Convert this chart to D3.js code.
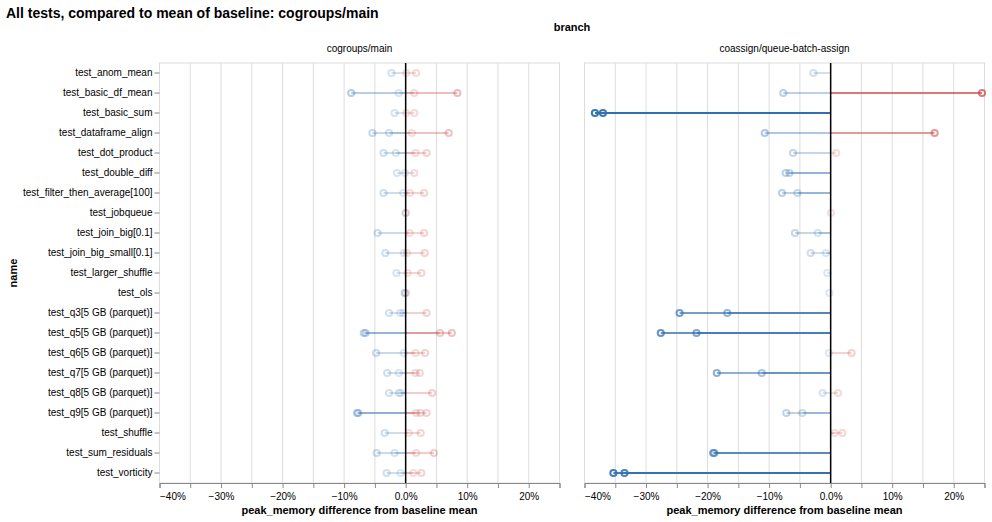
<!DOCTYPE html>
<html>
<head>
<meta charset="utf-8">
<script src="https://cdn.jsdelivr.net/npm/d3@7"></script>
<style>
  body { margin: 0; background: #fff; }
  text { font-family: "Liberation Sans", Arial, Helvetica, sans-serif; fill: #000; }
</style>
</head>
<body>
<svg id="chart" width="992" height="522"></svg>
<script>
// chart data (fractions: -0.05 = -5%)
const chartTitle = "All tests, compared to mean of baseline: cogroups/main"
const branches = ["cogroups/main", "coassign/queue-batch-assign"]
const testNames = [
    "test_anom_mean", "test_basic_df_mean", "test_basic_sum", "test_dataframe_align",
    "test_dot_product", "test_double_diff", "test_filter_then_average[100]", "test_jobqueue",
    "test_join_big[0.1]", "test_join_big_small[0.1]", "test_larger_shuffle", "test_ols",
    "test_q3[5 GB (parquet)]", "test_q5[5 GB (parquet)]", "test_q6[5 GB (parquet)]",
    "test_q7[5 GB (parquet)]", "test_q8[5 GB (parquet)]", "test_q9[5 GB (parquet)]",
    "test_shuffle", "test_sum_residuals", "test_vorticity"
]
// one list of run results per test, same order as testNames
const mainValues = [
    [-0.023, 0.001, 0.017],
    [-0.0885, -0.011, 0.014, 0.084],
    [-0.018, 0.001, 0.014],
    [-0.054, -0.027, 0.010, 0.070],
    [-0.036, -0.016, 0.016, 0.034],
    [-0.014, -0.001, 0.014],
    [-0.036, -0.004, 0.007, 0.030],
    [-0.0005, 0.0005],
    [-0.0456, 0.0065, 0.030],
    [-0.033, -0.003, 0.002, 0.031],
    [-0.015, 0.003, 0.0255],
    [-0.002, -0.001, 0.001],
    [-0.027, -0.009, -0.004, 0.034],
    [-0.068, -0.065, 0.056, 0.075],
    [-0.048, -0.003, 0.016, 0.0315],
    [-0.030, -0.011, 0.016, 0.023],
    [-0.027, -0.011, -0.008, 0.043],
    [-0.079, -0.077, 0.017, 0.024, 0.034],
    [-0.034, 0.005, 0.0245],
    [-0.047, -0.018, 0.017, 0.046],
    [-0.031, -0.008, 0.0125, 0.0255]
]
const queueValues = [
    [-0.028],
    [-0.077, 0.246],
    [-0.383, -0.370],
    [-0.107, 0.169],
    [-0.061, 0.009],
    [-0.073, -0.067],
    [-0.079, -0.054],
    [0.0005],
    [-0.058, -0.021],
    [-0.0325, -0.0076],
    [-0.0054],
    [-0.002],
    [-0.2455, -0.168],
    [-0.276, -0.218],
    [-0.003, 0.034],
    [-0.185, -0.112],
    [-0.013, 0.012],
    [-0.072, -0.046],
    [0.0065, 0.019],
    [-0.191, -0.189],
    [-0.353, -0.335]
]
const xTicks = [-0.40, -0.35, -0.30, -0.25, -0.20, -0.15, -0.10, -0.05, 0, 0.05, 0.10, 0.15, 0.20, 0.25]
const xTickLabels = ["\u221240%", "", "\u221230%", "", "\u221220%", "", "\u221210%", "", "0.0%", "", "10%", "", "20%", ""]
const xTitle = "peak_memory difference from baseline mean"
const yTitle = "name"
const facetTitle = "branch"

const branchValues = [mainValues, queueValues]

const svg = d3.select("#chart")
const panelW = 400
const panelH = 420
const marginTop = 63
const panelX = [159.5, 584.5]
const blue = "#3070b0"
const red = "#cc3b3b"

let x = d3.scaleLinear().domain([-0.40, 0.25]).range([0, panelW])
let y = d3.scaleBand().domain(testNames).range([0, panelH])
let opacity = d3.scaleLinear().domain([0, 0.4]).range([0.16, 1]).clamp(true)

// titles
svg.append("text")
    .attr("x", 6).attr("y", 18)
    .attr("font-size", 14).attr("font-weight", "bold")
    .text(chartTitle)
svg.append("text")
    .attr("x", (panelX[0] + panelX[1] + panelW) / 2).attr("y", 31)
    .attr("text-anchor", "middle")
    .attr("font-size", 11).attr("font-weight", "bold")
    .text(facetTitle)
svg.append("text")
    .attr("transform", `translate(17,${marginTop + panelH / 2}) rotate(-90)`)
    .attr("text-anchor", "middle")
    .attr("font-size", 11).attr("font-weight", "bold")
    .text(yTitle)

branches.forEach((branch, bi) => {
    const g = svg.append("g").attr("transform", `translate(${panelX[bi]},${marginTop})`)

    // facet header
    svg.append("text")
        .attr("x", panelX[bi] + panelW / 2).attr("y", 52)
        .attr("text-anchor", "middle")
        .attr("font-size", 10)
        .text(branch)

    // grid
    g.append("g")
        .selectAll("line")
        .data(xTicks)
        .join("line")
        .attr("x1", d => x(d)).attr("x2", d => x(d))
        .attr("y1", 0).attr("y2", panelH)
        .attr("stroke", "#ddd")
    g.append("rect")
        .attr("width", panelW).attr("height", panelH)
        .attr("fill", "none").attr("stroke", "#ddd")

    // x axis
    let xAxis = g.append("g")
        .attr("transform", `translate(0,${panelH})`)
        .call(d3.axisBottom(x).tickValues(xTicks).tickSize(5).tickPadding(5)
            .tickFormat((d, i) => xTickLabels[i]))
    xAxis.select(".domain").attr("stroke", "#888")
    xAxis.selectAll(".tick line").attr("stroke", "#888")
    xAxis.selectAll(".tick text")
        .attr("font-size", 10).attr("font-family", null).attr("fill", "#000")
        .filter((d, i) => i === 0).attr("text-anchor", "start")
    g.append("text")
        .attr("x", panelW / 2).attr("y", panelH + 31)
        .attr("text-anchor", "middle")
        .attr("font-size", 11).attr("font-weight", "bold")
        .text(xTitle)

    // y axis only on first panel
    if (bi === 0) {
        let yAxis = g.append("g")
            .call(d3.axisLeft(y).tickSize(5).tickPadding(2))
        yAxis.select(".domain").remove()
        yAxis.selectAll(".tick line").attr("stroke", "#888")
        yAxis.selectAll(".tick text").attr("font-size", 10).attr("font-family", null).attr("fill", "#000")
    }

    // flatten values into points
    let pts = []
    branchValues[bi].forEach((vals, ti) => {
        vals.forEach(v => pts.push({name: testNames[ti], value: v}))
    })

    g.append("g")
        .selectAll("line")
        .data(pts)
        .join("line")
        .attr("x1", x(0)).attr("x2", d => x(d.value))
        .attr("y1", d => y(d.name) + y.bandwidth() / 2)
        .attr("y2", d => y(d.name) + y.bandwidth() / 2)
        .attr("stroke", d => d.value < 0 ? blue : red)
        .attr("stroke-opacity", d => opacity(Math.abs(d.value)))
        .attr("stroke-width", 2)

    g.append("g")
        .selectAll("circle")
        .data(pts)
        .join("circle")
        .attr("cx", d => x(d.value))
        .attr("cy", d => y(d.name) + y.bandwidth() / 2)
        .attr("r", 3.1)
        .attr("fill", "none")
        .attr("stroke", d => d.value < 0 ? blue : red)
        .attr("stroke-opacity", d => opacity(Math.abs(d.value)))
        .attr("stroke-width", 2)

    // zero line
    g.append("line")
        .attr("x1", x(0)).attr("x2", x(0))
        .attr("y1", 0).attr("y2", panelH)
        .attr("stroke", "#000").attr("stroke-width", 1.5)
})
</script>
</body>
</html>
